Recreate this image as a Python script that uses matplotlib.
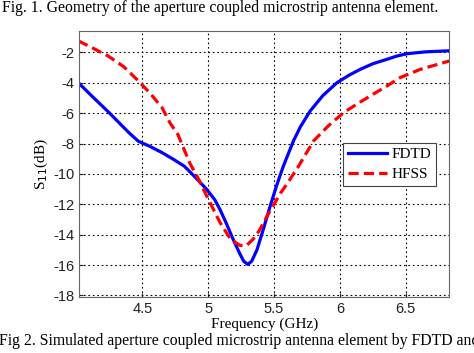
import numpy as np
import matplotlib
matplotlib.use("Agg")
import matplotlib.pyplot as plt

# FDTD curve
f_fdtd = [4.015, 4.12, 4.24, 4.32, 4.40, 4.47, 4.56, 4.65, 4.74, 4.82, 4.90, 4.99, 5.05, 5.09,
          5.14, 5.19, 5.24, 5.27, 5.30, 5.33, 5.37, 5.42, 5.47, 5.52, 5.57, 5.647, 5.70, 5.774,
          5.87, 5.977, 6.07, 6.154, 6.25, 6.357, 6.43, 6.51, 6.65, 6.83]
s_fdtd = [-4.0, -4.9, -5.9, -6.6, -7.3, -7.85, -8.2, -8.6, -9.06, -9.5, -10.2, -11.03,
          -11.7, -12.35, -13.3, -14.32, -15.25, -15.75, -15.95, -15.75, -15.0, -13.6, -12.13,
          -10.75, -9.5, -7.83, -6.9, -5.86, -4.85, -4.0, -3.5, -3.12, -2.75, -2.46, -2.25,
          -2.09, -1.97, -1.9]

# HFSS curve
f_hfss = [4.015, 4.12, 4.24, 4.36, 4.47, 4.56, 4.65, 4.71, 4.77, 4.86, 4.93, 4.99, 5.09,
          5.17, 5.24, 5.29, 5.34, 5.39, 5.445, 5.55, 5.597, 5.685, 5.80, 5.91, 6.027, 6.13,
          6.23, 6.35, 6.458, 6.61, 6.83]
s_hfss = [-1.25, -1.7, -2.24, -2.95, -3.88, -4.7, -5.64, -6.64, -7.4, -9.28, -10.4, -11.47,
          -13.2, -14.3, -14.7, -14.72, -14.3, -13.7, -12.8, -11.25, -10.68, -9.5, -7.83,
          -6.85, -5.97, -5.4, -4.87, -4.25, -3.66, -3.12, -2.57]

xticks = [4.5, 5, 5.5, 6, 6.5]
yticks = [-2, -4, -6, -8, -10, -12, -14, -16, -18]

fig = plt.figure(figsize=(4.74, 3.53), dpi=100)
ax = fig.add_axes([0.1667, 0.1586, 0.7813, 0.7535])

ax.plot(f_fdtd, s_fdtd, color="#0000ff", lw=2.3, label="FDTD")
ax.plot(f_hfss, s_hfss, color="#ff0000", lw=2.3, ls=(0, (3.2, 1.6)), label="HFSS")

ax.set_xlim(4.02, 6.83)
ax.set_ylim(-18.1, -0.6)
ax.set_xticks(xticks)
ax.set_xticklabels(["4.5", "5", "5.5", "6", "6.5"])
ax.set_yticks(yticks)
ax.set_yticklabels([str(v) for v in yticks])
ax.grid(True, color="black", ls=(0, (1.5, 2.5)), lw=0.8)
ax.tick_params(direction="in", length=3, labelsize=10.5, colors="#222222")
for lab in ax.get_xticklabels() + ax.get_yticklabels():
    lab.set_family("Liberation Sans")
for sp in ax.spines.values():
    sp.set_color("#666666")

ax.set_xlabel("Frequency (GHz)", family="Liberation Serif", fontsize=11, labelpad=1)
ax.set_ylabel("S$_{11}$(dB)", family="Liberation Serif", fontsize=11, labelpad=2)

leg = ax.legend(loc="upper right", bbox_to_anchor=(0.985, 0.608), fancybox=False,
                edgecolor="#444444", framealpha=1, handlelength=2.6,
                prop={"family": "Liberation Serif", "size": 11}, borderpad=0.3,
                labelspacing=0.4, handletextpad=0.3)
leg.get_frame().set_linewidth(0.8)

fig.text(0.004, 0.978, "Fig. 1. Geometry of the aperture coupled microstrip antenna element.",
         family="Liberation Serif", fontsize=11.3, va="center", ha="left")
fig.text(-0.002, 0.034, "Fig 2. Simulated aperture coupled microstrip antenna element by FDTD and",
         family="Liberation Serif", fontsize=11.3, va="center", ha="left")

fig.savefig("out.png", dpi=100)
